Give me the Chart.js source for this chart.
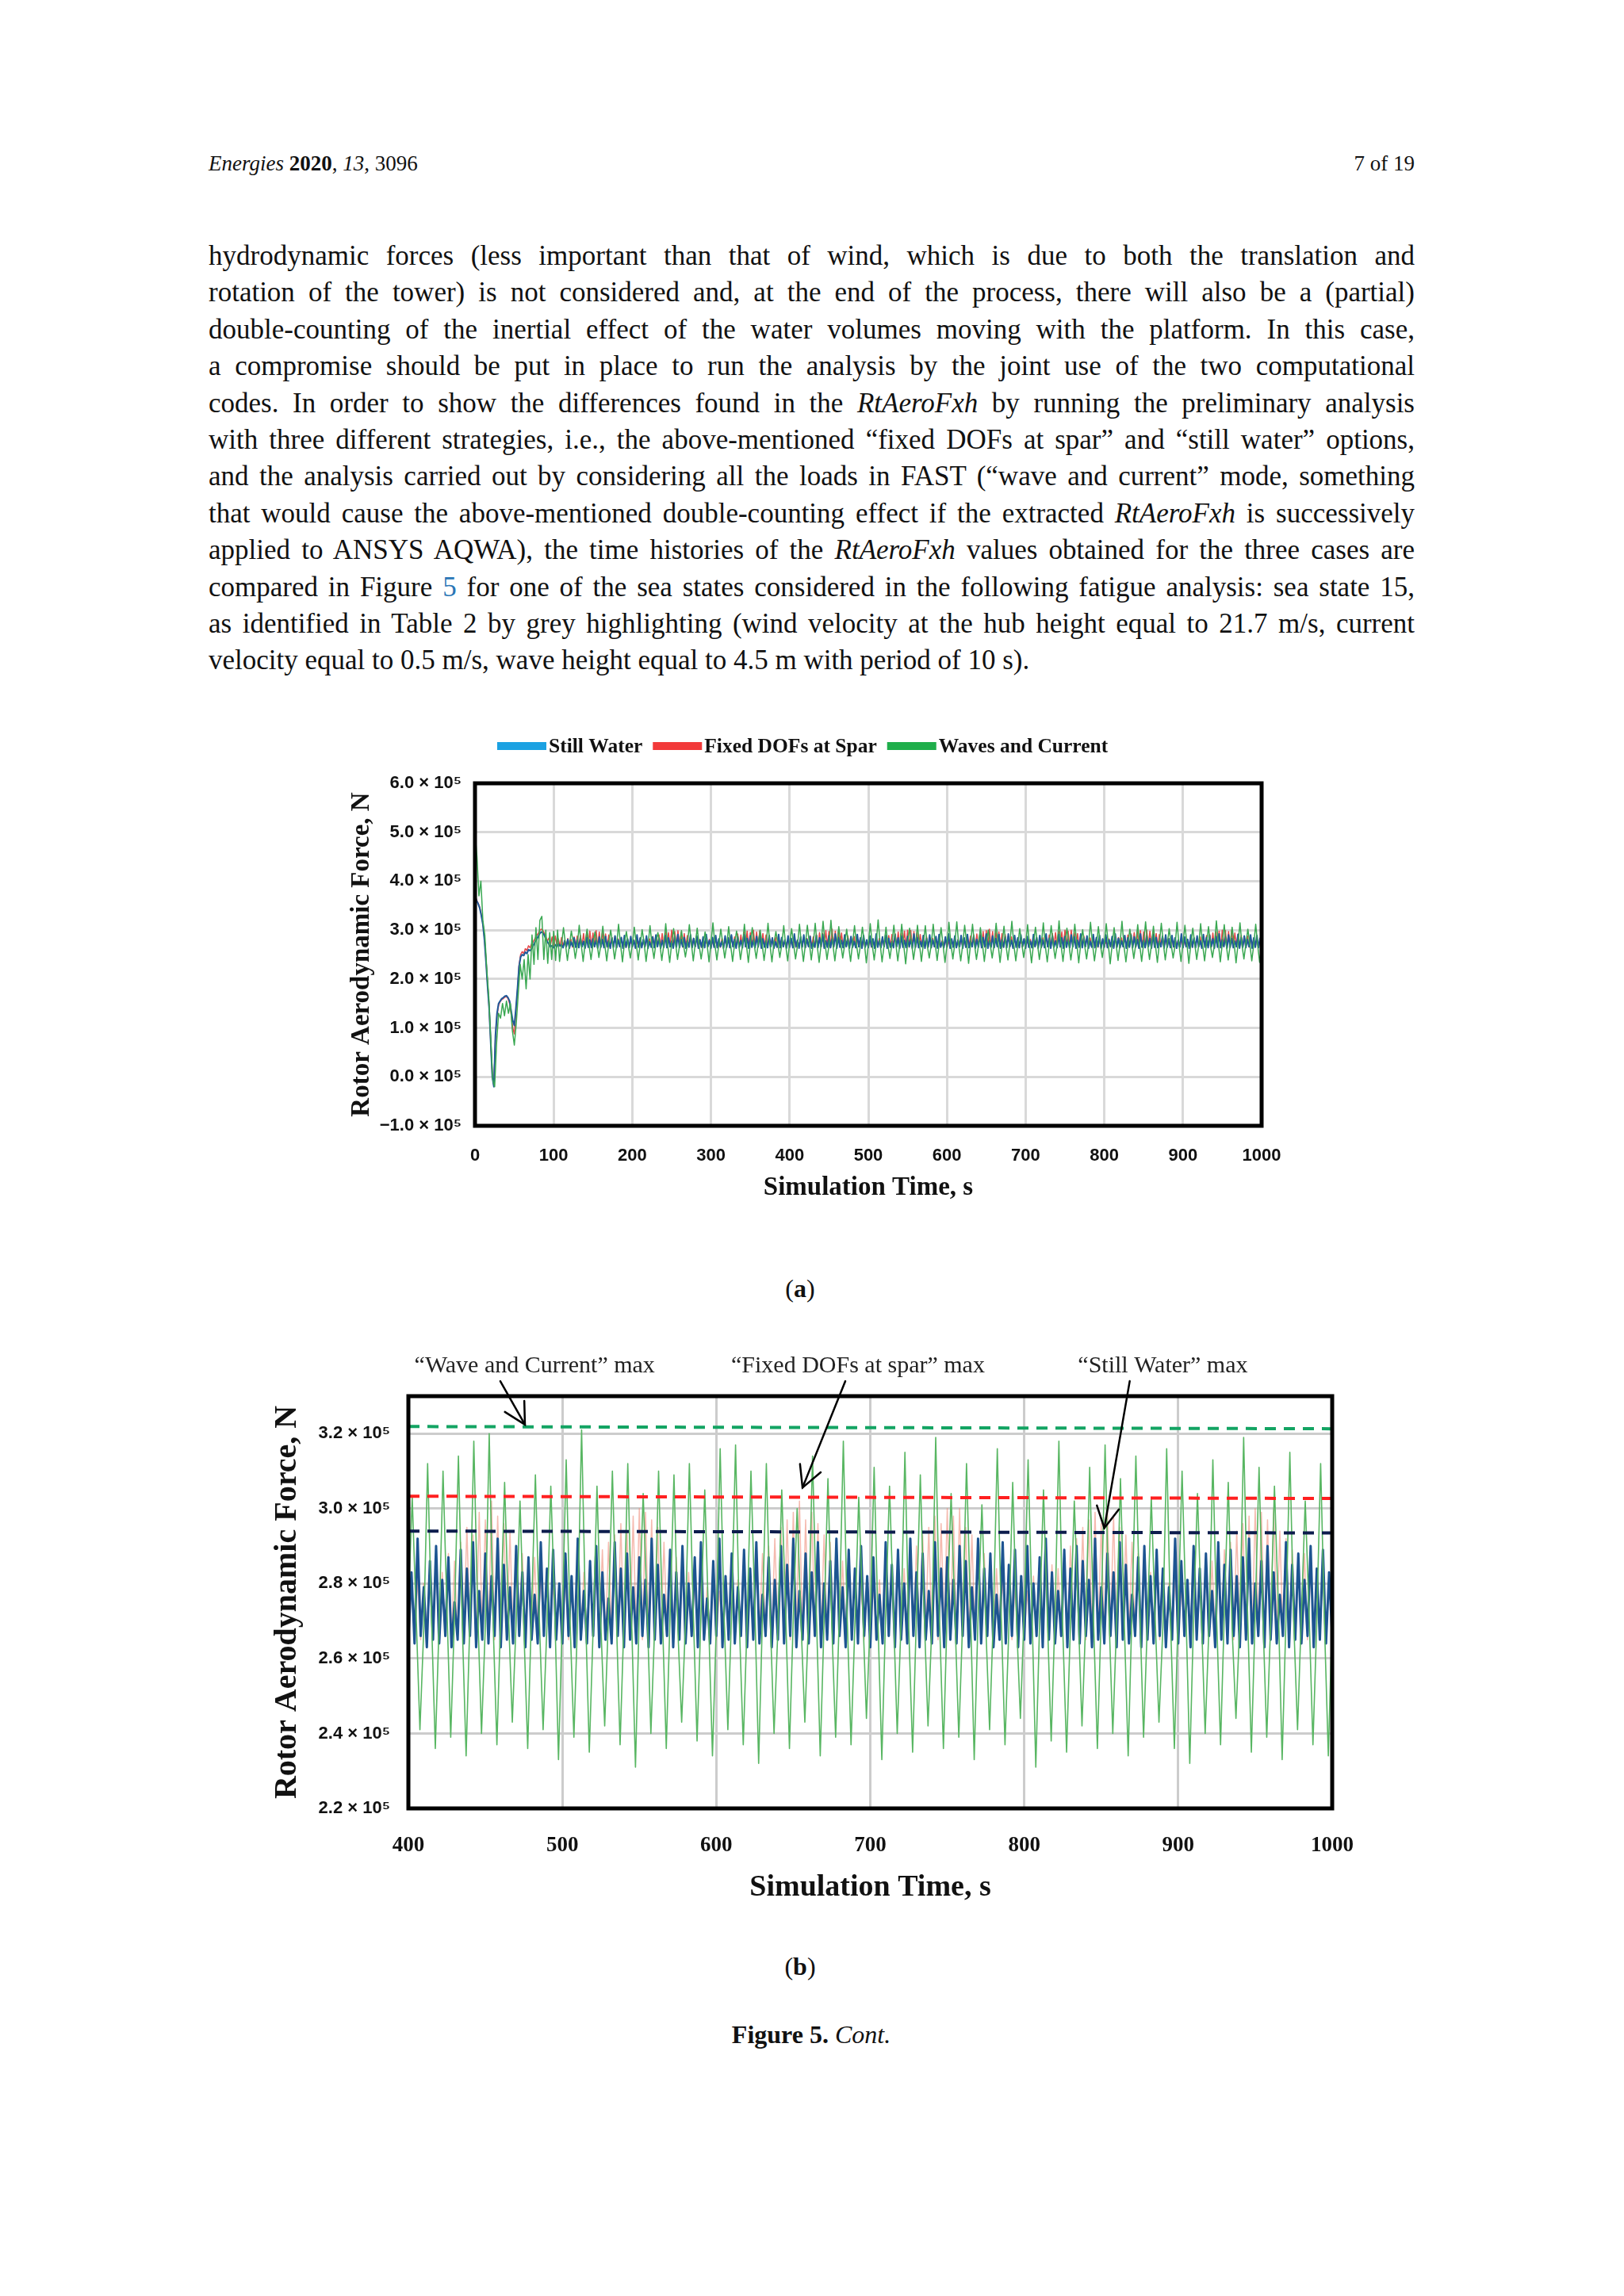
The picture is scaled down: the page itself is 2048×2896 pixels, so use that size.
<!DOCTYPE html>
<html><head><meta charset="utf-8">
<script src="https://cdn.jsdelivr.net/npm/chart.js@4.4.1/dist/chart.umd.min.js"></script>
<style>
html,body{margin:0;padding:0;background:#fff;}
#page{position:relative;width:2048px;height:2896px;background:#fff;overflow:hidden;font-family:'Liberation Serif','DejaVu Serif',serif;color:#111;}
.hdr{position:absolute;top:193px;font-size:27px;line-height:27px;white-space:nowrap;}
.body{position:absolute;left:263px;top:300px;width:1521px;font-size:35px;}
.ln{height:46.4px;line-height:46.4px;text-align:justify;text-align-last:justify;overflow:hidden;}
.ln.last{text-align:left;text-align-last:left;}
.link{color:#2a76b6;}
.cap{position:absolute;font-size:32px;line-height:32px;text-align:center;white-space:nowrap;}
canvas{position:absolute;}
</style></head>
<body><div id="page">
<div class="hdr" style="left:263px;"><i>Energies</i> <b>2020</b>, <i>13</i>, 3096</div>
<div class="hdr" style="right:264px;text-align:right;">7 of 19</div>
<div class="body">
<div class="ln">hydrodynamic forces (less important than that of wind, which is due to both the translation and</div>
<div class="ln">rotation of the tower) is not considered and, at the end of the process, there will also be a (partial)</div>
<div class="ln">double-counting of the inertial effect of the water volumes moving with the platform. In this case,</div>
<div class="ln">a compromise should be put in place to run the analysis by the joint use of the two computational</div>
<div class="ln">codes. In order to show the differences found in the <i>RtAeroFxh</i> by running the preliminary analysis</div>
<div class="ln">with three different strategies, i.e., the above-mentioned “fixed DOFs at spar” and “still water” options,</div>
<div class="ln">and the analysis carried out by considering all the loads in FAST (“wave and current” mode, something</div>
<div class="ln">that would cause the above-mentioned double-counting effect if the extracted <i>RtAeroFxh</i> is successively</div>
<div class="ln">applied to ANSYS AQWA), the time histories of the <i>RtAeroFxh</i> values obtained for the three cases are</div>
<div class="ln">compared in Figure <span class="link">5</span> for one of the sea states considered in the following fatigue analysis: sea state 15,</div>
<div class="ln">as identified in Table 2 by grey highlighting (wind velocity at the hub height equal to 21.7 m/s, current</div>
<div class="ln last">velocity equal to 0.5 m/s, wave height equal to 4.5 m with period of 10 s).</div>
</div>
<canvas id="chartA" width="1300" height="640" style="left:370px;top:900px;width:1300px;height:640px;"></canvas>
<div class="cap" style="left:909px;width:200px;top:1609px;">(<b>a</b>)</div>
<canvas id="chartB" width="1450" height="730" style="left:300px;top:1690px;width:1450px;height:730px;"></canvas>
<div class="cap" style="left:909px;width:200px;top:2464px;">(<b>b</b>)</div>
<div class="cap" style="left:873px;width:300px;top:2550px;"><b>Figure 5.</b> <i>Cont.</i></div>
</div>
<script>
// ---------------- DATA (values in kN; 100 kN = 1.0 × 10^5 N) ----------------
const seriesNames = ['Still Water', 'Fixed DOFs at Spar', 'Waves and Current'];

// Still Water: samples every 2 s from t = 0 s
const stillStart = 0, stillStep = 2;
const stillWater = [
370,360,354,345,330,312,280,235,185,140,
70,0,-20,85,130,150,155,160,162,165,
166,162,155,135,115,105,140,180,225,245,
250,248,255,252,260,258,262,268,275,280,
286,292,296,295,290,282,276,271,266,268,
264,270,266,272,268,270,
264,278,266,281,263,276,267,284,265,279,
264,283,266,277,263,285,265,280,264,282,
266,279,263,286,265,281,264,287,266,278,
263,284,265,288,264,280,266,285,263,289,
265,282,264,287,266,279,263,290,265,284,
264,281,266,288,263,276,265,286,264,290,
266,283,263,279,265,289,264,284,266,277,
263,287,265,291,264,281,266,285,263,278,
265,290,264,283,266,288,263,280,265,286,
264,291,266,279,263,285,265,289,264,282,
266,277,263,288,265,284,264,290,266,281,
263,286,265,279,264,291,266,283,263,288,
265,280,264,287,266,290,263,282,265,278,
264,289,266,284,263,276,265,291,264,285,
266,280,263,288,265,283,264,292,266,279,
263,286,265,290,264,281,266,287,263,275,
265,289,264,284,266,291,263,278,265,288,
264,282,266,292,263,285,265,279,264,290,
266,283,263,287,265,277,264,291,266,284,
263,289,265,280,264,288,266,282,263,292,
265,278,264,286,266,290,263,283,265,276,
264,291,266,284,263,288,265,279,264,287,
266,281,263,292,265,285,264,277,266,289,
263,283,265,290,264,280,266,287,263,291,
265,276,264,286,266,292,263,282,265,288,
264,279,266,289,263,284,265,291,264,277,
266,287,263,281,265,290,264,285,266,292,
263,278,265,288,264,283,266,291,263,280,
265,286,264,292,266,279,263,289,265,284,
264,290,266,282,263,287,265,277,264,291,
266,285,263,289,265,280,264,292,266,283,
263,288,265,278,264,291,266,284,263,287,
265,281,264,290,266,286,263,279,265,292,
264,284,266,288,263,277,265,291,264,285,
266,289,263,282,265,290,264,280,266,287,
263,292,265,283,264,278,266,289,263,284,
265,290,264,286,266,281,263,292,265,279,
264,288,266,283,263,291,265,285,264,277,
266,287,263,290,265,282,264,289,266,284,
263,279,265,292,264,286,266,281,263,290,
265,284,264,288,266,278,263,291,265,285,
264,289,266,282,263,287,265,292,264,280,
266,286,263,290,265,283,264,277,266,291,
263,285,265,288,264,281,266,290,263,284,
265,289,264,283,266
];

// Fixed DOFs at Spar: samples every 2 s from t = 0 s
const fixedStart = 0, fixedStep = 2;
const fixedDOFs = [
372,362,355,347,332,314,284,240,190,142,
72,2,-18,80,125,146,154,158,160,163,
164,160,150,128,100,88,130,176,228,250,
256,252,262,258,268,264,272,276,282,288,
292,298,302,300,294,286,278,284,270,286,
268,288,270,282,267,285,
266,279,265,283,267,281,265,286,266,288,
265,289,267,293,266,296,265,298,267,294,
266,299,265,296,267,298,266,292,265,290,
267,285,266,287,265,282,267,284,266,279,
265,281,267,278,266,280,265,277,267,283,
266,280,265,284,267,282,266,287,265,288,
267,290,266,293,265,297,267,295,266,300,
265,297,267,299,266,295,265,293,267,289,
266,288,265,283,267,285,266,281,265,282,
267,279,266,281,265,278,267,282,266,280,
265,283,267,281,266,285,265,287,267,286,
266,292,265,290,267,296,266,298,265,295,
267,300,266,296,265,298,267,293,266,290,
265,287,267,284,266,286,265,281,267,283,
266,278,265,282,267,279,266,281,265,280,
267,282,266,285,265,283,267,288,266,286,
265,291,267,295,266,293,265,299,267,297,
266,302,265,298,267,296,266,294,265,290,
267,288,266,285,265,287,267,282,266,284,
265,280,267,278,266,282,265,279,267,283,
266,283,265,286,267,284,266,289,265,291,
267,293,266,296,265,294,267,298,266,300,
265,299,267,297,266,295,265,291,267,289,
266,287,265,285,267,283,266,281,265,282,
267,279,266,281,265,278,267,280,266,282,
265,281,267,284,266,283,265,286,267,288,
266,290,265,292,267,295,266,297,265,299,
267,302,266,297,265,299,267,296,266,293,
265,291,267,288,266,286,265,284,267,282,
266,280,265,282,267,279,266,281,265,283,
267,282,266,285,265,284,267,287,266,290,
265,293,267,295,266,298,265,296,267,300,
266,298,265,300,267,295,266,293,265,290,
267,288,266,286,265,284,267,281,266,283,
265,279,267,281,266,278,265,282,267,280,
266,283,265,285,267,284,266,288,265,290,
267,292,266,295,265,297,267,299,266,296,
265,300,267,298,266,295,265,293,267,291,
266,288,265,286,267,283,266,285,265,281,
267,280,266,282,265,279,267,281,266,283,
265,282,267,284,266,286,265,285,267,289,
266,291,265,294,267,296,266,298,265,300,
267,299,266,297,265,300,267,294,266,292,
265,289,267,286,266,288,265,284,267,282,
266,283,265,280,267
];

// Waves and Current: samples every 2.5 s from t = 0 s
const waveStart = 0, waveStep = 2.5;
const wavesCurrent = [
500,450,370,400,320,290,220,165,80,-5,
-20,70,130,120,150,125,155,130,150,95,
65,110,170,230,200,240,180,250,200,290,
230,305,240,320,328,240,300,232,295,240,
298,238,300,236,270,
305,272,238,270, 298,274,242,268, 310,271,236,273, 302,269,240,271, 296,275,244,270,
308,270,237,272, 300,273,241,269, 312,271,235,274, 297,268,243,270, 306,272,239,271,
301,274,236,269, 309,270,242,273, 295,272,238,270, 313,269,234,272, 303,273,240,268,
299,271,245,270, 311,274,237,272, 304,268,241,269, 296,272,235,273, 315,270,239,271,
302,273,243,270, 307,269,236,272, 298,274,240,268, 312,271,234,273, 305,270,242,271,
300,272,238,269, 314,270,235,272, 297,273,244,270, 309,269,237,274, 303,272,241,268,
312,271,236,270, 310,274,239,272, 314,269,234,271, 318,273,240,269, 320,270,237,272,
307,272,243,270, 302,268,236,273, 309,271,241,269, 306,274,233,271, 313,270,239,272,
321,273,235,268, 306,269,242,272, 310,272,237,270, 312,270,231,273, 304,274,240,269,
310,271,236,272, 309,268,243,270, 312,273,238,271, 305,270,234,269, 316,272,241,273,
317,269,237,270, 310,274,232,272, 312,271,240,268, 305,273,236,271, 300,270,243,272,
314,272,234,270, 308,269,239,273, 318,271,237,269, 303,274,244,271, 311,270,233,272,
306,273,240,270, 315,268,235,272, 309,272,242,269, 319,270,236,273, 304,271,239,270,
312,274,233,271, 301,269,241,272, 316,272,237,268, 307,270,244,273, 313,273,231,270,
305,271,238,272, 318,268,235,269, 302,273,242,271, 311,270,236,272, 317,272,240,270,
308,269,234,273, 314,274,239,270, 303,271,243,268, 316,270,236,272, 310,273,232,271,
304,272,240,269, 313,270,237,273, 307,268,244,270, 319,273,235,272, 311,271,239,269,
306,274,233,271, 315,270,241,272, 302,272,237,270, 312,269,234,271
];

// Maximum lines of panel (b) (kN), at the two ends of the time window
const maxLineTimes = [400, 1000];
const maxWave  = [321.9, 321.3];
const maxFixed = [303.3, 302.7];
const maxStill = [294.0, 293.5];

// Tick values
const xTicksA = [0,100,200,300,400,500,600,700,800,900,1000];
const yTicksA = [-100,0,100,200,300,400,500,600];
const xTicksB = [400,500,600,700,800,900,1000];
const yTicksB = [220,240,260,280,300,320];

// Annotations of panel (b), in data units [time s, kN]
const notesB = [
  {text:'“Wave and Current” max',   at:[482, 338], from:[459.7, 334.0], to:[475.7, 322.4]},
  {text:'“Fixed DOFs at spar” max', at:[692, 338], from:[683.8, 334.0], to:[656.0, 305.6]},
  {text:'“Still Water” max',        at:[890, 338], from:[868.5, 334.0], to:[852.0, 294.8]}
];

// ---------------- helpers ----------------
const SERIF = "'Liberation Serif','DejaVu Serif',serif";
const SANS = "'Liberation Sans','DejaVu Sans',sans-serif";
const pts = (start, step, vals) => vals.map((v, i) => ({x: start + i * step, y: v}));
const sci = v => (v < 0 ? '−' : '') + (Math.abs(v) / 100).toFixed(1) + ' × 10⁵';

const framePlugin = {
  id: 'frame',
  afterDatasetsDraw(chart, args, o) {
    const {ctx, chartArea: a} = chart;
    ctx.save();
    ctx.strokeStyle = '#000';
    ctx.lineWidth = o.width || 5;
    ctx.strokeRect(a.left, a.top, a.right - a.left, a.bottom - a.top);
    ctx.restore();
  }
};

const legendPlugin = {
  id: 'seriesLegend',
  afterDraw(chart, args, o) {
    if (!o.items) return;
    const {ctx, chartArea: a} = chart;
    ctx.save();
    ctx.font = o.font;
    ctx.textBaseline = 'middle';
    let x = a.left + o.offsetX;
    const y = a.top - o.offsetY;
    o.items.forEach(it => {
      ctx.fillStyle = it.color;
      ctx.fillRect(x, y - o.boxH / 2, o.boxW, o.boxH);
      x += o.boxW + o.gap;
      ctx.fillStyle = '#111';
      ctx.fillText(it.label, x, y + 1);
      x += ctx.measureText(it.label).width + o.spacing;
    });
    ctx.restore();
  }
};

const notesPlugin = {
  id: 'maxNotes',
  afterDraw(chart, args, o) {
    if (!o.notes) return;
    const {ctx} = chart;
    const xs = chart.scales.x, ys = chart.scales.y;
    ctx.save();
    ctx.font = o.font;
    ctx.fillStyle = '#222';
    ctx.textAlign = 'center';
    ctx.textBaseline = 'middle';
    o.notes.forEach(n => {
      ctx.fillText(n.text, xs.getPixelForValue(n.at[0]), ys.getPixelForValue(n.at[1]));
      const x1 = xs.getPixelForValue(n.from[0]), y1 = ys.getPixelForValue(n.from[1]);
      const x2 = xs.getPixelForValue(n.to[0]), y2 = ys.getPixelForValue(n.to[1]);
      ctx.strokeStyle = '#000';
      ctx.lineWidth = 2.5;
      ctx.lineCap = 'round';
      ctx.beginPath(); ctx.moveTo(x1, y1); ctx.lineTo(x2, y2); ctx.stroke();
      const ang = Math.atan2(y1 - y2, x1 - x2);
      const L = 30, h = 28 * Math.PI / 180;
      ctx.beginPath();
      ctx.moveTo(x2 + L * Math.cos(ang + h), y2 + L * Math.sin(ang + h));
      ctx.lineTo(x2, y2);
      ctx.lineTo(x2 + L * Math.cos(ang - h), y2 + L * Math.sin(ang - h));
      ctx.stroke();
    });
    ctx.restore();
  }
};

function lineDs(label, data, color, width, order, extra) {
  return Object.assign({label, data, borderColor: color, backgroundColor: color, borderWidth: width,
    pointRadius: 0, pointHoverRadius: 0, tension: 0, fill: false, order, borderJoinStyle: 'round'}, extra || {});
}

// ---------------- Chart (a) ----------------
new Chart(document.getElementById('chartA'), {
  type: 'line',
  data: {
    datasets: [
      lineDs(seriesNames[2], pts(waveStart, waveStep, wavesCurrent), '#3aa852', 1.5, 1),
      lineDs(seriesNames[0], pts(stillStart, stillStep, stillWater), '#1f5a9a', 2, 2),
      lineDs(seriesNames[1], pts(fixedStart, fixedStep, fixedDOFs), '#e5484a', 1.5, 3)
    ]
  },
  options: {
    responsive: false, animation: false, devicePixelRatio: 1,
    layout: {padding: {top: 88, left: 70, right: 79, bottom: 25}},
    plugins: {
      legend: {display: false}, tooltip: {enabled: false},
      frame: {width: 5},
      seriesLegend: {
        font: "bold 25.5px " + SERIF, offsetX: 28, offsetY: 47, boxW: 62, boxH: 10, gap: 3, spacing: 13,
        items: [
          {label: seriesNames[0], color: '#1ba1e2'},
          {label: seriesNames[1], color: '#f23a3a'},
          {label: seriesNames[2], color: '#1fae4b'}
        ]
      }
    },
    scales: {
      x: {
        type: 'linear', min: 0, max: 1000,
        afterBuildTicks: s => { s.ticks = xTicksA.map(v => ({value: v})); },
        afterFit: s => { s.height = 95; },
        grid: {color: '#d9d9d9', lineWidth: 3, drawTicks: false},
        border: {display: false},
        ticks: {padding: 25, autoSkip: false, maxRotation: 0, color: '#111',
          font: {family: SANS, size: 22, weight: 'bold'}, callback: v => String(v)},
        title: {display: true, text: 'Simulation Time, s', color: '#111', padding: 0,
          font: {family: SERIF, size: 33, weight: 'bold', lineHeight: 1}}
      },
      y: {
        type: 'linear', min: -100, max: 600,
        afterBuildTicks: s => { s.ticks = yTicksA.map(v => ({value: v})); },
        afterFit: s => { s.width = 159; },
        grid: {color: '#d9d9d9', lineWidth: 3, drawTicks: false},
        border: {display: false},
        ticks: {padding: 17, autoSkip: false, color: '#111',
          font: {family: SANS, size: 22, weight: 'bold'}, callback: v => sci(v)},
        title: {display: true, text: 'Rotor Aerodynamic Force, N', color: '#111', padding: 0,
          font: {family: SERIF, size: 33, weight: 'bold', lineHeight: 1}}
      }
    }
  },
  plugins: [framePlugin, legendPlugin]
});

// ---------------- Chart (b) ----------------
const maxPts = vals => vals.map((v, i) => ({x: maxLineTimes[i], y: v}));
new Chart(document.getElementById('chartB'), {
  type: 'line',
  data: {
    datasets: [
      lineDs('“Wave and Current” max', maxPts(maxWave), '#13a463', 4, 0, {borderDash: [14, 10], borderJoinStyle: 'miter'}),
      lineDs('“Fixed DOFs at spar” max', maxPts(maxFixed), '#ff2020', 4, 0, {borderDash: [14, 10], borderJoinStyle: 'miter'}),
      lineDs('“Still Water” max', maxPts(maxStill), '#0d1d4d', 4, 0, {borderDash: [14, 10], borderJoinStyle: 'miter'}),
      lineDs(seriesNames[2], pts(waveStart, waveStep, wavesCurrent), '#58b662', 1.6, 1),
      lineDs(seriesNames[0], pts(stillStart, stillStep, stillWater), '#1d5491', 3, 2),
      lineDs(seriesNames[1], pts(fixedStart, fixedStep, fixedDOFs), 'rgba(236,130,110,0.55)', 1.5, 3)
    ]
  },
  options: {
    responsive: false, animation: false, devicePixelRatio: 1,
    layout: {padding: {top: 71, left: 43, right: 70, bottom: 20}},
    plugins: {
      legend: {display: false}, tooltip: {enabled: false},
      frame: {width: 5},
      maxNotes: {font: "30px " + SERIF, notes: notesB}
    },
    scales: {
      x: {
        type: 'linear', min: 400, max: 1000,
        afterBuildTicks: s => { s.ticks = xTicksB.map(v => ({value: v})); },
        afterFit: s => { s.height = 119; },
        grid: {color: '#cccccc', lineWidth: 3, drawTicks: false},
        border: {display: false},
        ticks: {padding: 31, autoSkip: false, maxRotation: 0, color: '#111',
          font: {family: SERIF, size: 27, weight: 'bold'}, callback: v => String(v)},
        title: {display: true, text: 'Simulation Time, s', color: '#111', padding: 0,
          font: {family: SERIF, size: 38, weight: 'bold', lineHeight: 1}}
      },
      y: {
        type: 'linear', min: 220, max: 330,
        afterBuildTicks: s => { s.ticks = yTicksB.map(v => ({value: v})); },
        afterFit: s => { s.width = 172; },
        grid: {color: '#cccccc', lineWidth: 3, drawTicks: false},
        border: {display: false},
        ticks: {padding: 23, autoSkip: false, color: '#111',
          font: {family: SANS, size: 22, weight: 'bold'}, callback: v => sci(v)},
        title: {display: true, text: 'Rotor Aerodynamic Force, N', color: '#111', padding: 0,
          font: {family: SERIF, size: 40, weight: 'bold', lineHeight: 1}}
      }
    }
  },
  plugins: [framePlugin, notesPlugin]
});

// keep each text line on one line
document.querySelectorAll('.ln').forEach(el => {
  let ls = 0;
  while (el.scrollHeight > 60 && ls > -3) { ls -= 0.1; el.style.letterSpacing = ls.toFixed(1) + 'px'; }
});
</script>
</body></html>
